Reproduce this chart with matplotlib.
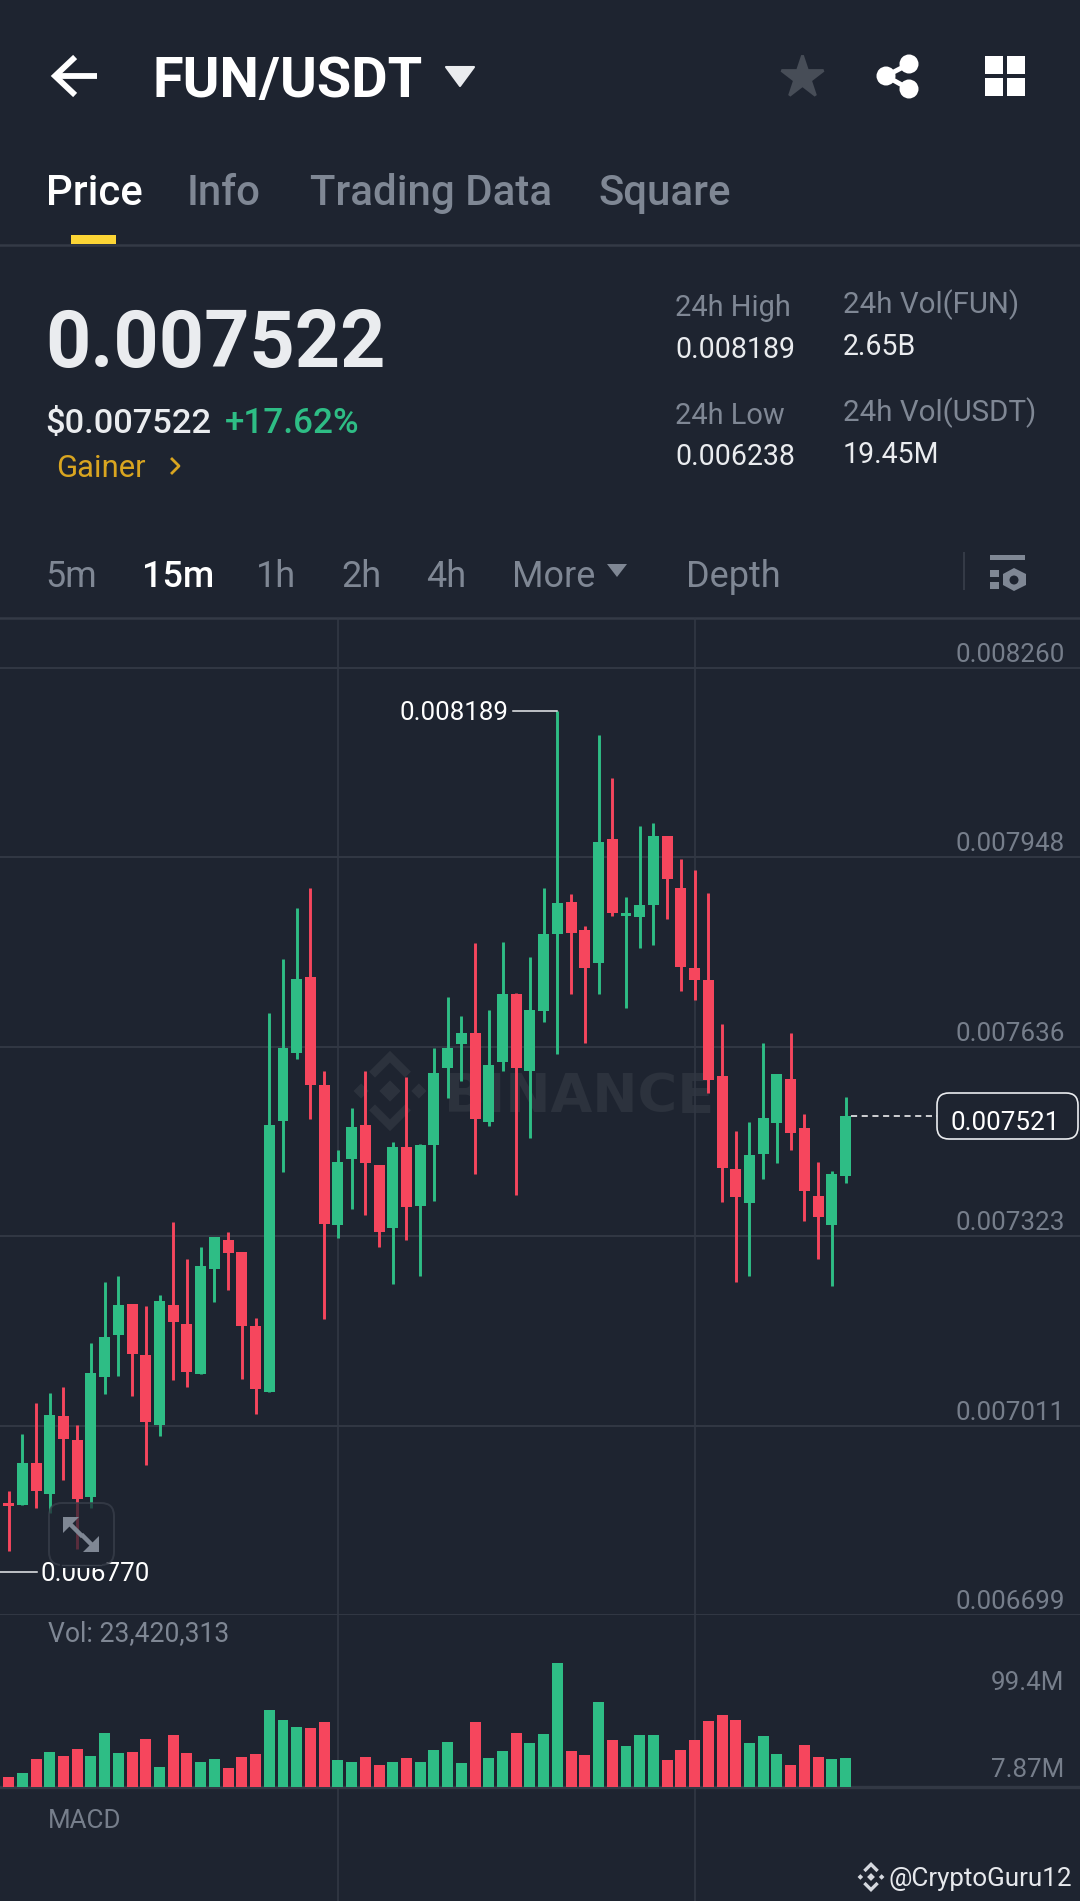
import numpy as np
import matplotlib
matplotlib.use('Agg')
import matplotlib.pyplot as plt
from matplotlib.patches import Rectangle, Polygon, Circle, FancyBboxPatch

plt.rcParams['font.family'] = ['Roboto', 'DejaVu Sans']

W, H = 1080, 1901
BG = '#1E2430'
GRID = '#323844'
GREEN = '#2EBD85'
RED = '#F6465D'
WHITE = '#FFFFFF'
LIGHT = '#EAECEF'
GREY = '#7F8794'
DIM = '#767E8B'

# 15m candles, prices in millionths of USDT, first one is cut by the left edge
opens = [6771, 6883, 6881, 6949, 6898, 7027, 6987, 6893, 7091, 7160, 7212, 7127, 7013, 7210, 7179, 7096,
         7269, 7317, 7297, 7175, 7066, 7514, 7626, 7751, 7572, 7342, 7451, 7507, 7440, 7337, 7471, 7373,
         7474, 7601, 7641, 7659, 7512, 7610, 7722, 7595, 7695, 7822, 7875, 7829, 7773, 7979, 7852, 7849,
         7870, 7983, 7897, 7766, 7745, 7588, 7434, 7378, 7459, 7510, 7583, 7502, 7390, 7342, 7423]
closes = [6878, 6878, 6949, 6903, 7028, 6989, 6891, 7098, 7157, 7210, 7129, 7017, 7217, 7182, 7099, 7274,
          7322, 7296, 7175, 7071, 7507, 7634, 7748, 7572, 7344, 7446, 7504, 7444, 7330, 7471, 7372, 7474,
          7593, 7634, 7659, 7517, 7605, 7722, 7601, 7697, 7822, 7872, 7824, 7766, 7974, 7856, 7856, 7869,
          7983, 7912, 7768, 7746, 7581, 7436, 7388, 7458, 7519, 7591, 7494, 7398, 7355, 7426, 7521]
highs = [6900, 6903, 6997, 7048, 7065, 7075, 7012, 7147, 7248, 7258, 7212, 7208, 7226, 7347, 7286, 7306,
         7322, 7330, 7297, 7188, 7692, 7780, 7864, 7898, 7596, 7466, 7534, 7595, 7440, 7479, 7586, 7476,
         7633, 7717, 7687, 7806, 7697, 7809, 7725, 7783, 7898, 8189, 7888, 7834, 8149, 8078, 7882, 7999,
         8004, 7983, 7946, 7927, 7890, 7674, 7497, 7512, 7642, 7591, 7659, 7525, 7446, 7431, 7553]
lows = [6770, 6805, 6881, 6875, 6867, 6921, 6807, 6875, 7063, 7093, 7060, 6947, 6994, 7086, 7075, 7096,
        7215, 7235, 7088, 7030, 7066, 7430, 7616, 7517, 7187, 7321, 7368, 7359, 7306, 7245, 7317, 7258,
        7382, 7552, 7580, 7426, 7505, 7595, 7392, 7486, 7677, 7623, 7722, 7642, 7723, 7851, 7700, 7798,
        7804, 7847, 7728, 7712, 7560, 7380, 7248, 7258, 7418, 7444, 7466, 7349, 7286, 7241, 7411]
# volume in millions of FUN
volumes = [13.6, 8.2, 11.2, 22.4, 28, 24.8, 30.4, 24.8, 43.2, 27.2, 28, 38.4, 16, 41.6, 27.2, 20,
           22.4, 15.2, 24, 26.4, 61.6, 53.6, 48, 47.2, 52, 21.6, 20, 24, 17.6, 20, 23.2, 20,
           29.6, 36, 19.2, 52, 23.2, 28.8, 43.2, 35.2, 42.4, 99.4, 28.8, 25.6, 68, 37.6, 32.8, 41.6,
           41.6, 21.6, 29.6, 37.6, 52.8, 57.6, 53.6, 35.2, 40.8, 26.4, 17.6, 33.6, 24, 22.4, 23.420313]
price_ticks = [8260, 7948, 7636, 7323, 7011, 6699]
volume_ticks = ['99.4M', '7.87M']
time_tabs = ['5m', '15m', '1h', '2h', '4h', 'More', 'Depth']
time_tab_x = [45, 142, 256, 341, 426, 512, 686]
page_tabs = ['Price', 'Info', 'Trading Data', 'Square']
page_tab_x = [46, 187, 310, 598]

x = np.arange(-1, 62)
o = np.array(opens)
c = np.array(closes)
colors = [GREEN if b > a else RED for a, b in zip(opens, closes)]
colors[1] = RED


def axes_px(top, bottom):
    return [0, 1 - bottom / H, 1, (bottom - top) / H]


def label(ax, px, py, s, size, color=GREY, weight='normal', ha='left', **kw):
    # size is the em in pixels, py is the baseline
    ax.text(px, py, s, fontsize=size * 0.72, color=color, fontweight=weight, ha=ha, va='baseline', **kw)


def diamond(ax, cx, cy, r, color, zorder=1):
    ax.add_patch(Polygon([(cx - r, cy), (cx, cy - r), (cx + r, cy), (cx, cy + r)], closed=True,
                         facecolor=color, edgecolor='none', zorder=zorder))


def binance_logo(ax, cx, cy, r, color, lw):
    diamond(ax, cx, cy, r * 0.28, color)
    diamond(ax, cx - r * 0.76, cy, r * 0.2, color)
    diamond(ax, cx + r * 0.76, cy, r * 0.2, color)
    k = r * 0.86
    ax.plot([cx - k * 0.55, cx, cx + k * 0.55], [cy - k * 0.5, cy - k * 1.05, cy - k * 0.5],
            color=color, lw=lw, solid_capstyle='butt', solid_joinstyle='miter')
    ax.plot([cx - k * 0.55, cx, cx + k * 0.55], [cy + k * 0.5, cy + k * 1.05, cy + k * 0.5],
            color=color, lw=lw, solid_capstyle='butt', solid_joinstyle='miter')


fig = plt.figure(figsize=(W / 100, H / 100), dpi=100, facecolor=BG)

# pixel layer behind the chart: header, stats, watermark
ui = fig.add_axes([0, 0, 1, 1], zorder=0)
ui.set_xlim(0, W)
ui.set_ylim(H, 0)
ui.axis('off')

ui.plot([97, 56], [76, 76], color=WHITE, lw=4.2, solid_capstyle='butt')
ui.plot([73, 55, 73], [59, 76, 93], color=WHITE, lw=4.2, solid_joinstyle='miter')
label(ui, 153, 97, 'FUN/USDT', 56, WHITE, 'bold')
ui.add_patch(Polygon([(446, 67), (474, 67), (460, 86)], closed=True, facecolor=LIGHT, edgecolor=LIGHT, lw=1.5, joinstyle='round'))
ui.plot([802], [77], marker='*', ms=32, color='#474D57', mec='#474D57', mew=2, mfc='#474D57')

for a, b in [((909, 64), (886, 76)), ((886, 76), (909, 89))]:
    ui.plot([a[0], b[0]], [a[1], b[1]], color=WHITE, lw=3.5)
for cx, cy in [(909, 64), (886, 76), (909, 89)]:
    ui.add_patch(Circle((cx, cy), 9.5, facecolor=WHITE, edgecolor='none'))
for sx in [985, 1007]:
    for sy in [56, 78]:
        ui.add_patch(Rectangle((sx, sy), 18, 18, facecolor=WHITE, edgecolor='none'))

for name, px in zip(page_tabs, page_tab_x):
    label(ui, px, 205, name, 42, WHITE if name == 'Price' else GREY, 500)
ui.add_patch(Rectangle((71, 235), 45, 9, facecolor='#FCD535', edgecolor='none'))
ui.plot([0, W], [245, 245], color='#343A46', lw=1.8)

label(ui, 45, 367, '0.007522', 79, LIGHT, 'bold')
label(ui, 45, 433, '$0.007522', 34.5, LIGHT, 500)
label(ui, 225, 433, '+17.62%', 35, GREEN, 500)
label(ui, 56, 477, 'Gainer', 31, '#D9A520')
ui.plot([172, 179, 172], [459, 466, 473], color='#D9A520', lw=2)

label(ui, 675, 316, '24h High', 29, GREY)
label(ui, 675, 358, '0.008189', 28.5, LIGHT)
label(ui, 675, 424, '24h Low', 29, GREY)
label(ui, 675, 465, '0.006238', 28.5, LIGHT)
label(ui, 843, 313, '24h Vol(FUN)', 29.5, GREY)
label(ui, 843, 355, '2.65B', 28.5, LIGHT)
label(ui, 843, 421, '24h Vol(USDT)', 29.5, GREY)
label(ui, 843, 463, '19.45M', 28.5, LIGHT)

for name, px in zip(time_tabs, time_tab_x):
    label(ui, px, 587, name, 36, WHITE if name == '15m' else GREY, 500 if name == '15m' else 'normal')
ui.add_patch(Polygon([(607, 564), (627, 564), (617, 577)], closed=True, facecolor=GREY, edgecolor='none'))
ui.plot([964, 964], [553, 589], color='#343A46', lw=1.5)
ui.add_patch(Rectangle((990, 555), 35, 5, facecolor=GREY, edgecolor='none'))
ui.add_patch(Rectangle((990, 570), 9, 7, facecolor=GREY, edgecolor='none'))
ui.add_patch(Rectangle((990, 582), 9, 7, facecolor=GREY, edgecolor='none'))
ui.add_patch(Polygon([(1014, 568), (1026, 574), (1026, 585), (1014, 591), (1003, 585), (1003, 574)],
                     closed=True, facecolor=GREY, edgecolor='none'))
ui.add_patch(Circle((1014, 580), 4.5, facecolor=BG, edgecolor='none'))
ui.plot([0, W], [618, 618], color='#343A46', lw=1.8)

binance_logo(ui, 390, 1091, 38, '#2C323D', 6)
label(ui, 444, 1112, 'BINANCE', 54, '#2C323D', 'bold', family='DejaVu Sans')

label(ui, 48, 1641, f'Vol: {int(volumes[-1] * 1e6):,}', 26.5, GREY)
label(ui, 48, 1828, 'MACD', 26, DIM)

# candles
ax = fig.add_axes(axes_px(618, 1615), zorder=1)
ax.patch.set_visible(False)
ax.set_xlim(-0.627, 78.09)
ax.set_ylim(6699, 8342.5)
for s in ax.spines.values():
    s.set_visible(False)
ax.set_xticks([])
ax.set_yticks([])
for t in price_ticks:
    ax.axhline(t, color=GRID, lw=1.4, zorder=1)
    ax.annotate(f'{t / 1e6:.6f}', xy=(1, t), xycoords=('axes fraction', 'data'), xytext=(-11, 4.3),
                textcoords='offset points', ha='right', va='baseline', fontsize=26 * 0.72, color=DIM)
ax.axvline(24, color=GRID, lw=1.2, zorder=1)
ax.axvline(50, color=GRID, lw=1.2, zorder=1)
ax.vlines(x, lows, highs, colors=colors, lw=2.1, zorder=2)
ax.bar(x, np.abs(c - o), bottom=np.minimum(o, c), width=0.8, color=colors, zorder=3)

top = int(np.argmax(highs))
ax.plot([36.8, x[top]], [highs[top], highs[top]], color=LIGHT, lw=1.1, zorder=2)
ax.annotate(f'{highs[top] / 1e6:.6f}', xy=(36.4, highs[top]), xytext=(0, -6.5), textcoords='offset points',
            color=WHITE, fontsize=26 * 0.72, ha='right', va='baseline')
bottom = int(np.argmin(lows))
ax.plot([x[bottom], 2.1], [lows[bottom], lows[bottom]], color=LIGHT, lw=1.1, zorder=2)
ax.annotate(f'{lows[bottom] / 1e6:.6f}', xy=(2.35, lows[bottom]), xytext=(0, -6.5), textcoords='offset points',
            color=WHITE, fontsize=26 * 0.72, ha='left', va='baseline')

ax.plot([61.4, 67.67], [closes[-1], closes[-1]], color=WHITE, lw=1.1, ls=(0, (4, 3)), zorder=2)

# volume
vol = fig.add_axes(axes_px(1615, 1787), zorder=1)
vol.patch.set_visible(False)
vol.set_xlim(ax.get_xlim())
vol.set_ylim(0, 137.6)
vol.axis('off')
vol.axvline(24, color=GRID, lw=1.2, zorder=1)
vol.axvline(50, color=GRID, lw=1.2, zorder=1)
vol.axhline(0, color=GRID, lw=2.4, zorder=1, clip_on=False)
vol.bar(x, volumes, width=0.8, color=colors, zorder=2)

# empty MACD pane keeps only the two vertical lines
macd = fig.add_axes(axes_px(1787, H), zorder=1)
macd.patch.set_visible(False)
macd.set_xlim(ax.get_xlim())
macd.axis('off')
macd.axvline(24, color=GRID, lw=1.2)
macd.axvline(50, color=GRID, lw=1.2)

# pixel layer on top: floating price tag, expand button, signature
fg = fig.add_axes([0, 0, 1, 1], zorder=3)
fg.patch.set_visible(False)
fg.set_xlim(0, W)
fg.set_ylim(H, 0)
fg.axis('off')

fg.add_patch(FancyBboxPatch((945, 1101), 125, 30, boxstyle='round,pad=8,rounding_size=12',
                            facecolor=BG, edgecolor=LIGHT, lw=1.2))
label(fg, 1060, 1130, f'{closes[-1] / 1e6:.6f}', 26, WHITE, ha='right')

fg.add_patch(FancyBboxPatch((55, 1509), 53, 50, boxstyle='round,pad=6,rounding_size=13',
                            facecolor=BG, alpha=0.72, edgecolor='#3B414D', lw=1.4))
# the button hides the top of the low label
fg.add_patch(Rectangle((60, 1559), 42, 9, facecolor=BG, edgecolor='none'))
fg.plot([62, 101], [1565, 1565], color='#3B414D', lw=1.0)
fg.add_patch(Polygon([(63, 1517), (79, 1517), (63, 1533)], closed=True, facecolor=GREY, edgecolor='none'))
fg.add_patch(Polygon([(99, 1552), (83, 1552), (99, 1536)], closed=True, facecolor=GREY, edgecolor='none'))
fg.plot([69, 81], [1523, 1535], color=GREY, lw=3.2)
fg.plot([93, 83], [1546, 1536], color=GREY, lw=3.2)

binance_logo(fg, 871, 1877, 14, '#D5D8DE', 2.4)
label(fg, 888, 1886, '@CryptoGuru12', 26, '#E6E8EC')
for label_text, py in zip(volume_ticks, [1690, 1777]):
    label(fg, 1064, py, label_text, 26, DIM, ha='right')

fig.savefig('out.png', dpi=100, facecolor=BG)
